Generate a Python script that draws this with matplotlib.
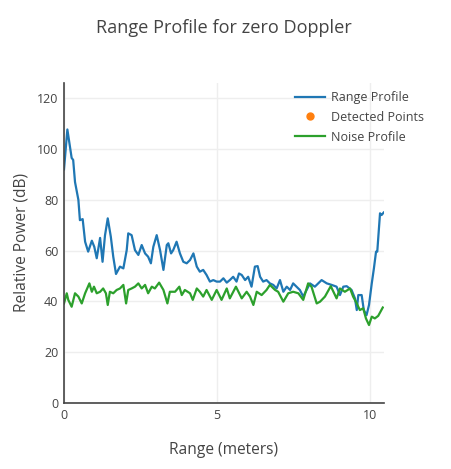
import numpy as np
import matplotlib.pyplot as plt

# range profile (blue)
range_x = [0.00, 0.11, 0.25, 0.30, 0.36, 0.47, 0.52, 0.61, 0.69, 0.79, 0.91, 0.99,
           1.07, 1.18, 1.26, 1.34, 1.43, 1.53, 1.61, 1.70, 1.83, 1.94, 2.05, 2.10,
           2.21, 2.32, 2.43, 2.54, 2.65, 2.75, 2.84, 2.92, 3.03, 3.14, 3.25, 3.36,
           3.41, 3.50, 3.57, 3.68, 3.79, 3.90, 4.01, 4.12, 4.23, 4.34, 4.44, 4.55,
           4.66, 4.77, 4.88, 4.99, 5.10, 5.21, 5.32, 5.42, 5.53, 5.64, 5.72, 5.81,
           5.92, 6.02, 6.13, 6.24, 6.33, 6.41, 6.51, 6.62, 6.73, 6.84, 6.95, 7.06,
           7.17, 7.28, 7.39, 7.49, 7.60, 7.71, 7.82, 8.04, 8.20, 8.42, 8.59, 8.75,
           8.91, 9.02, 9.13, 9.24, 9.40, 9.51, 9.57, 9.62, 9.73, 9.80, 9.89, 9.97,
           10.06, 10.13, 10.20, 10.24, 10.33, 10.38, 10.45]
range_db = [92, 107.7, 96.5, 95.7, 87, 80, 72, 72.4, 63.5, 59.6, 63.9, 61.5,
            57, 65, 55.6, 66, 72.7, 65.5, 57.6, 50.8, 53.7, 53, 60.2, 66.8,
            66.1, 60.2, 58.3, 62.2, 58.9, 57.6, 55, 61.5, 66.1, 60.2, 52.4, 62.2,
            62.9, 58.9, 60.2, 63.5, 58.9, 55.6, 55, 56.3, 58.9, 53.7, 51.7, 52.4,
            50.4, 47.8, 48.4, 47.8, 47.8, 49.1, 47.4, 48.4, 49.7, 47.8, 51, 50.4,
            48.4, 49.7, 45.8, 53.7, 53.9, 49.7, 47.8, 48.4, 47.1, 46.5, 45.1, 48.4,
            43.8, 45.8, 44.5, 47.1, 45.8, 44.5, 41.9, 47.1, 45.8, 48.4, 47.1, 46.5,
            45.8, 42.5, 45.8, 46, 44.5, 41.2, 36.6, 42.5, 42.5, 36.6, 34.6, 38.6,
            47.1, 53, 59.6, 59.6, 74.7, 74, 75]

# noise profile (green)
noise_x = [0.00, 0.09, 0.14, 0.25, 0.36, 0.47, 0.58, 0.69, 0.83, 0.91, 0.98, 1.07,
           1.18, 1.28, 1.37, 1.43, 1.50, 1.61, 1.72, 1.83, 1.94, 2.03, 2.10, 2.21,
           2.32, 2.43, 2.54, 2.65, 2.75, 2.87, 2.97, 3.11, 3.25, 3.38, 3.46, 3.63,
           3.77, 3.85, 3.95, 4.12, 4.21, 4.34, 4.44, 4.55, 4.66, 4.83, 4.99, 5.15,
           5.32, 5.42, 5.62, 5.81, 5.97, 6.08, 6.19, 6.30, 6.46, 6.62, 6.73, 6.90,
           7.00, 7.17, 7.33, 7.49, 7.66, 7.82, 7.98, 8.09, 8.26, 8.37, 8.53, 8.72,
           8.91, 9.02, 9.18, 9.35, 9.45, 9.57, 9.67, 9.78, 9.87, 9.97, 10.06, 10.16,
           10.27, 10.42]
noise_db = [39.2, 43.2, 40.6, 37.9, 43.2, 41.9, 39.2, 43.2, 47.1, 43.8, 45.8, 43.2,
            43.8, 45.1, 43.2, 38.6, 43.8, 43.2, 44.5, 45.1, 46.5, 39.2, 44.5, 45.1,
            45.8, 47.1, 45.1, 46.5, 43.2, 45.8, 45.1, 47.4, 44.5, 39.2, 43.8, 43.8,
            45.8, 42.5, 44.5, 43.2, 40.6, 45.1, 43.8, 41.9, 44.5, 40.6, 44.5, 40.6,
            45.1, 41.2, 45.8, 41.2, 43.8, 41.9, 38.6, 43.8, 42.5, 44.5, 46.5, 44.5,
            43.8, 39.9, 43.2, 43.8, 43.2, 40.6, 47.1, 45.8, 39.2, 39.9, 41.9, 46,
            41.2, 45.1, 43.8, 45.1, 41.9, 39.2, 36.6, 37.3, 33.3, 30.7, 34, 33.3,
            34.3, 37.6]

# no detections in this frame
det_x = []
det_db = []

x_ticks = [0, 5, 10]
y_ticks = [0, 20, 40, 60, 80, 100, 120]

plt.rcParams['font.family'] = ['Open Sans', 'DejaVu Sans']
txt = '#444444'

fig = plt.figure(figsize=(4.52, 4.69), dpi=100)
ax = fig.add_axes([64 / 452, 1 - 403 / 469, 320 / 452, 320 / 469])

ax.plot(range_x, range_db, color='#1f77b4', lw=1.6, label='Range Profile')
ax.plot(det_x, det_db, 'o', color='#ff7f0e', ms=5, label='Detected Points')
ax.plot(noise_x, noise_db, color='#2ca02c', lw=1.6, label='Noise Profile')

ax.set_xlim(0, 10.46)
ax.set_ylim(0, 126)
ax.set_xticks(x_ticks)
ax.set_yticks(y_ticks)
ax.grid(color='#eeeeee', lw=1)
ax.set_axisbelow(True)
ax.tick_params(length=0, labelsize=9, colors=txt, pad=4)
for s in ['top', 'right']:
    ax.spines[s].set_visible(False)
for s in ['left', 'bottom']:
    ax.spines[s].set_color(txt)
    ax.spines[s].set_linewidth(1.2)

fig.text(224 / 452, 1 - 28 / 469, 'Range Profile for zero Doppler', ha='center',
         va='center', fontsize=13.1, color=txt)
fig.text(224 / 452, 1 - 450 / 469, 'Range (meters)', ha='center', va='center',
         fontsize=11.2, color=txt)
fig.text(22 / 452, 1 - 243 / 469, 'Relative Power (dB)', ha='center', va='center',
         rotation=90, fontsize=11.2, color=txt)

leg = ax.legend(loc='upper left', bbox_to_anchor=(290 / 452, 1 - 86 / 469),
                bbox_transform=fig.transFigure, frameon=False, fontsize=9,
                handlelength=2.4, labelspacing=0.55, handletextpad=0.45,
                borderaxespad=0)
for t in leg.get_texts():
    t.set_color(txt)

fig.savefig('out.png', dpi=100)
